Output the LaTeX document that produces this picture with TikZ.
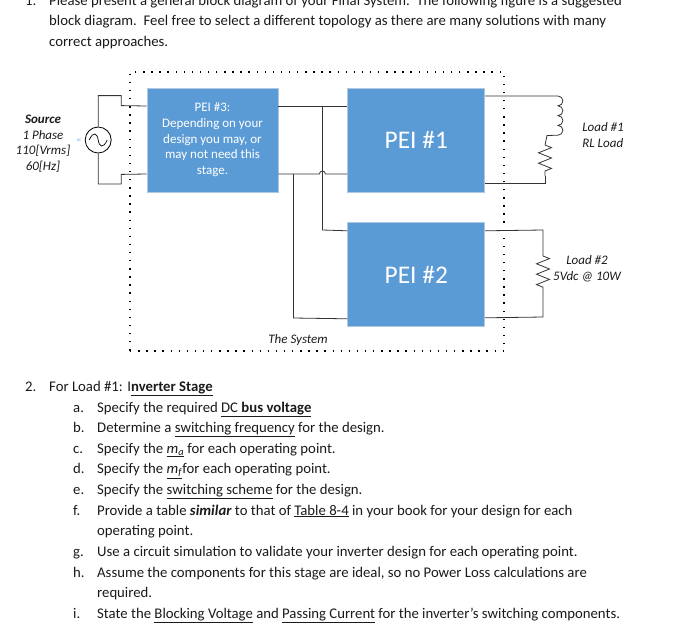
\documentclass[tikz,border=0pt]{standalone}
\usepackage{fontspec}
\setmainfont{Carlito}
\usepackage{xcolor}
\usetikzlibrary{positioning,decorations.pathmorphing}
\definecolor{peiblue}{HTML}{5B9BD5}
\definecolor{peiedge}{HTML}{AFC8E2}
\definecolor{wiregray}{HTML}{333333}
\definecolor{acblue}{HTML}{5B9BD5}
\definecolor{bodyblack}{HTML}{1A1A1A}
\tikzset{
  peibox/.style={draw=peiedge,fill=peiblue,text=white,align=center,inner sep=0pt,line width=0.8pt},
  bigpei/.style={peibox,minimum width=137pt,minimum height=104pt,font=\fontsize{25.4}{29}\selectfont},
  smallpei/.style={peibox,minimum width=131pt,minimum height=104pt,font=\fontsize{13}{15.7}\selectfont},
  wire/.style={draw=wiregray,line width=0.8pt},
  dotbox/.style={draw=black,line width=1.4pt,dash pattern=on 1.4pt off 6.7pt,minimum width=374pt,minimum height=279pt,inner sep=0pt},
  resistor/.style={wire,decorate,decoration={zigzag,amplitude=6.5pt,segment length=10.4pt}},
  loadtext/.style={font=\fontsize{13}{15.6}\selectfont\itshape,align=center,inner sep=0pt,text=bodyblack},
  bodytext/.style={font=\fontsize{14.75}{17}\selectfont,anchor=base west,inner sep=0pt,text=bodyblack}
}
\begin{document}
\begin{tikzpicture}[x=1pt,y=-1pt]
  \useasboundingbox (0,0) rectangle (676,635);
  % question text above
  \node[bodytext] (num1) at (25,5) {1.};
  \node[bodytext] (top1) at (49,5) {Please present a general block diagram of your Final System.\ \ The following figure is a suggested};
  \node[bodytext] (top2) at (49,25) {block diagram.\ \ Feel free to select a different topology as there are many solutions with many};
  \node[bodytext] (top3) at (49,46) {correct approaches.};
  % the system
  \node[dotbox] (system) at (317,211.5) {};
  \node[smallpei] (pei3) at (212.5,140) {PEI \#3:\\Depending on your\\design you may, or\\may not need this\\stage.};
  \node[bigpei,right=69pt of pei3] (pei1) {PEI \#1};
  \node[bigpei,below=30pt of pei1] (pei2) {PEI \#2};
  \node[draw=black,circle,line width=0.8pt,minimum size=26pt,inner sep=0pt,left=35pt of pei3] (source) {};
  \draw[line width=0.7pt] ([xshift=-9pt]source.center) .. controls ([xshift=-5pt,yshift=9pt]source.center) and ([xshift=-1pt,yshift=7pt]source.center) .. (source.center) .. controls ([xshift=1pt,yshift=-7pt]source.center) and ([xshift=5pt,yshift=-9pt]source.center) .. ([xshift=9pt]source.center);
  \node[left=3pt of source,inner sep=0pt,text=acblue,font=\fontsize{4}{4}\selectfont] (ac) {AC};
  % source side
  \draw[wire] (source.north) -- ++(0,-31) -- ++(23,0) -- ++(0,10) -- ([yshift=34pt]pei3.west);
  \draw[wire] (source.south) -- ++(0,30.5) -- ++(23,0) -- ++(0,-9.5) -- ([yshift=-34pt]pei3.west);
  % links between stages
  \draw[wire] ([yshift=34pt]pei3.east) -- ([yshift=34pt]pei1.west);
  \draw[wire] ([yshift=-34pt]pei3.east) -- ++(41,0) arc[start angle=180,end angle=360,radius=3] -- ([yshift=-34pt]pei1.west);
  \draw[wire] ([yshift=34pt]pei3.east) ++(44,0) -- ++(0,124) -- ([yshift=44pt]pei2.west);
  \draw[wire] ([yshift=-34pt]pei3.east) ++(15,0) -- ++(0,144) -- ([yshift=-44pt]pei2.west);
  % load 1
  \coordinate (coiltop) at (558,96);
  \coordinate (restop) at (545,145);
  \coordinate (resend) at (545,176);
  \draw[wire] ([yshift=44pt]pei1.east) -- (coiltop) arc[start angle=-90,end angle=90,radius=4.9] arc[start angle=-90,end angle=90,radius=4.9] arc[start angle=-90,end angle=90,radius=4.9] arc[start angle=-90,end angle=90,radius=4.9] -- (547,135.5) -- (restop);
  \draw[resistor] (restop) -- (resend);
  \draw[wire] (resend) -- (545,183) -- ([yshift=-43pt]pei1.east);
  % load 2
  \coordinate (res2top) at (543,256);
  \coordinate (res2end) at (543,289);
  \draw[wire] ([yshift=44pt]pei2.east) -- (543,230) -- (res2top);
  \draw[resistor] (res2top) -- (res2end);
  \draw[wire] (res2end) -- (543,317) -- ([yshift=-43pt]pei2.east);
  % labels
  \node[loadtext] (sourcelabel) at (43,143.5) {\textbf{Source}\\1 Phase\\110[Vrms]\\60[Hz]};
  \node[loadtext,align=left] (load1label) at (603,135) {Load \#1\\RL Load};
  \node[loadtext] (load2label) at (587,269) {Load \#2\\5Vdc @ 10W};
  \node[loadtext] (systemlabel) at (298,340) {The System};
  % question text below
  \node[bodytext] (num2) at (25,391) {2.};
  \node[bodytext] (head2) at (49,391) {For Load \#1: I\underline{\textbf{nverter Stage}}};
  \node[bodytext] (la) at (73,412) {a.};
  \node[bodytext] (ta) at (97,412) {Specify the required \underline{DC \textbf{bus voltage}}};
  \node[bodytext] (lb) at (73,432) {b.};
  \node[bodytext] (tb) at (97,432) {Determine a \underline{switching frequency} for the design.};
  \node[bodytext] (lc) at (73,453) {c.};
  \node[bodytext] (tc) at (97,453) {Specify the \underline{\textit{m}\textsubscript{\textit{a}}} for each operating point.};
  \node[bodytext] (ld) at (73,473) {d.};
  \node[bodytext] (td) at (97,473) {Specify the \underline{\textit{m}\textsubscript{\textit{f}}}for each operating point.};
  \node[bodytext] (le) at (73,494) {e.};
  \node[bodytext] (te) at (97,494) {Specify the \underline{switching scheme} for the design.};
  \node[bodytext] (lf) at (73,515) {f.};
  \node[bodytext] (tf) at (97,515) {Provide a table \textbf{\textit{similar}} to that of \underline{Table 8-4} in your book for your design for each};
  \node[bodytext] (tf2) at (97,535) {operating point.};
  \node[bodytext] (lg) at (73,556) {g.};
  \node[bodytext] (tg) at (97,556) {Use a circuit simulation to validate your inverter design for each operating point.};
  \node[bodytext] (lh) at (73,577) {h.};
  \node[bodytext] (th) at (97,577) {Assume the components for this stage are ideal, so no Power Loss calculations are};
  \node[bodytext] (th2) at (97,597) {required.};
  \node[bodytext] (li) at (73,618) {i.};
  \node[bodytext] (ti) at (97,618) {State the \underline{Blocking Voltage} and \underline{Passing Current} for the inverter’s switching components.};
\end{tikzpicture}
\end{document}
